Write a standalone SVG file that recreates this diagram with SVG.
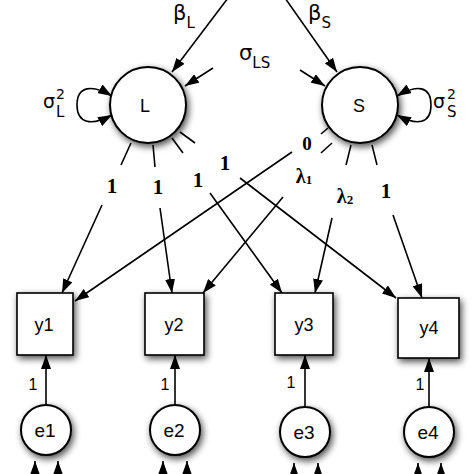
<svg xmlns="http://www.w3.org/2000/svg" width="474" height="474" viewBox="0 0 474 474">
<defs>
<marker id="ah" viewBox="0 0 14 10" refX="14" refY="5" markerWidth="14" markerHeight="10" markerUnits="userSpaceOnUse" orient="auto-start-reverse"><path d="M0,0 L14,5 L0,10 z" fill="#000"/></marker>
<filter id="sh" x="-40%" y="-40%" width="180%" height="180%">
<feGaussianBlur in="SourceAlpha" stdDeviation="3.5"/>
<feOffset dx="2" dy="3"/>
<feComponentTransfer><feFuncA type="linear" slope="0.7"/></feComponentTransfer>
<feMerge><feMergeNode/><feMergeNode in="SourceGraphic"/></feMerge>
</filter>
</defs>
<style>
.nd{fill:#fff;stroke:#000;stroke-width:2;filter:url(#sh)}
.bx{fill:#fff;stroke:#000;stroke-width:1.6;filter:url(#sh)}
.ln{fill:none;stroke:#000;stroke-width:1.6}
.ar{fill:none;stroke:#000;stroke-width:1.6;marker-end:url(#ah)}
.lb{font-family:"Liberation Sans",Arial,sans-serif;fill:#000;text-anchor:middle}
.gk{font-family:"DejaVu Sans","Liberation Sans",sans-serif;fill:#000}
.bd{font-family:"Liberation Serif","Times New Roman",serif;font-weight:bold;fill:#000;text-anchor:middle}
</style>
<rect width="474" height="474" fill="#fff"/>
<g id="connectors">
<line class="ar" x1="228" y1="-2" x2="172" y2="72"/>
<line class="ar" x1="285" y1="-2" x2="337" y2="72"/>
<line class="ar" x1="213" y1="68" x2="185" y2="86"/>
<line class="ar" x1="300" y1="70" x2="325" y2="86"/>
<path class="ln" d="M112,96 C92,84 77,86 77,105 C77,124 92,126 112,115" marker-start="url(#ah)" marker-end="url(#ah)"/>
<path class="ln" d="M397,96 C417,84 431,86 431,105 C431,124 417,126 397,115" marker-start="url(#ah)" marker-end="url(#ah)"/>
<line class="ln" x1="131" y1="143" x2="121" y2="165"/>
<line class="ar" x1="102" y1="205" x2="62" y2="293"/>
<line class="ln" x1="153" y1="145" x2="155" y2="167"/>
<line class="ar" x1="160" y1="208" x2="172" y2="293"/>
<line class="ln" x1="172" y1="138" x2="183" y2="153"/>
<line class="ar" x1="210" y1="193" x2="282" y2="293"/>
<line class="ln" x1="180" y1="132" x2="195" y2="143"/>
<line class="ar" x1="240" y1="178" x2="396" y2="298"/>
<line class="ln" x1="328" y1="128" x2="321" y2="134"/>
<line class="ar" x1="292" y1="152" x2="75" y2="301"/>
<line class="ln" x1="332" y1="143" x2="321" y2="153"/>
<line class="ar" x1="283" y1="197" x2="203" y2="293"/>
<line class="ln" x1="351" y1="145" x2="346" y2="165"/>
<line class="ar" x1="332" y1="218" x2="315" y2="293"/>
<line class="ln" x1="372" y1="145" x2="377" y2="165"/>
<line class="ar" x1="393" y1="215" x2="422" y2="298"/>
<line class="ar" x1="46" y1="405" x2="46" y2="355"/>
<line class="ar" x1="175" y1="405" x2="175" y2="355"/>
<line class="ar" x1="305" y1="407" x2="305" y2="355"/>
<line class="ar" x1="429" y1="407" x2="429" y2="358"/>
<line class="ar" x1="35" y1="480" x2="35" y2="461"/>
<line class="ar" x1="58" y1="480" x2="58" y2="461"/>
<line class="ar" x1="163" y1="480" x2="163" y2="461"/>
<line class="ar" x1="187" y1="480" x2="187" y2="461"/>
<line class="ar" x1="294" y1="480" x2="294" y2="463"/>
<line class="ar" x1="318" y1="480" x2="318" y2="463"/>
<line class="ar" x1="418" y1="480" x2="418" y2="463"/>
<line class="ar" x1="441" y1="480" x2="441" y2="463"/>
</g>
<g id="labels">
<text class="gk" x="173" y="20" font-size="21">β<tspan font-size="15" dy="8">L</tspan></text>
<text class="gk" x="308" y="20" font-size="21">β<tspan font-size="15" dy="8">S</tspan></text>
<text class="gk" x="239" y="60" font-size="21">σ<tspan font-size="15" dy="8">LS</tspan></text>
<text class="gk" x="43" y="108" font-size="19">σ</text>
<text class="gk" x="56" y="99" font-size="14">2</text>
<text class="gk" x="56" y="117" font-size="15">L</text>
<text class="gk" x="433" y="108" font-size="19">σ</text>
<text class="gk" x="447" y="99" font-size="14">2</text>
<text class="gk" x="447" y="117" font-size="15">S</text>
<text class="bd" x="112" y="193" font-size="21">1</text>
<text class="bd" x="158" y="194" font-size="21">1</text>
<text class="bd" x="198" y="187" font-size="21">1</text>
<text class="bd" x="225" y="170" font-size="21">1</text>
<text class="bd" x="307" y="150" font-size="19">0</text>
<text class="bd" x="386" y="198" font-size="21">1</text>
<text class="bd" x="304" y="183" font-size="20">λ<tspan font-size="13" dy="1">1</tspan></text>
<text class="bd" x="345" y="203" font-size="20">λ<tspan font-size="13" dy="1">2</tspan></text>
<text class="lb" x="33" y="390" font-size="16">1</text>
<text class="lb" x="165" y="390" font-size="16">1</text>
<text class="lb" x="291" y="388" font-size="16">1</text>
<text class="lb" x="420" y="390" font-size="16">1</text>
</g>
<g id="L"><circle class="nd" cx="148" cy="105" r="38"/><text class="lb" x="145" y="112" font-size="18">L</text></g>
<g id="S"><circle class="nd" cx="360" cy="105" r="38"/><text class="lb" x="359" y="112" font-size="18">S</text></g>
<g id="y1"><rect class="bx" x="17" y="293" width="56" height="62"/><text class="lb" x="44" y="331" font-size="18">y1</text></g>
<g id="y2"><rect class="bx" x="145" y="293" width="59" height="62"/><text class="lb" x="174" y="331" font-size="18">y2</text></g>
<g id="y3"><rect class="bx" x="275" y="293" width="58" height="62"/><text class="lb" x="304" y="331" font-size="18">y3</text></g>
<g id="y4"><rect class="bx" x="398" y="298" width="61" height="60"/><text class="lb" x="429" y="334" font-size="18">y4</text></g>
<g id="e1"><circle class="nd" cx="46" cy="430" r="25"/><text class="lb" x="45" y="437" font-size="19">e1</text></g>
<g id="e2"><circle class="nd" cx="175" cy="430" r="25"/><text class="lb" x="174" y="437" font-size="19">e2</text></g>
<g id="e3"><circle class="nd" cx="305" cy="432" r="25"/><text class="lb" x="304" y="439" font-size="19">e3</text></g>
<g id="e4"><circle class="nd" cx="429" cy="432" r="25"/><text class="lb" x="428" y="439" font-size="19">e4</text></g>
</svg>
